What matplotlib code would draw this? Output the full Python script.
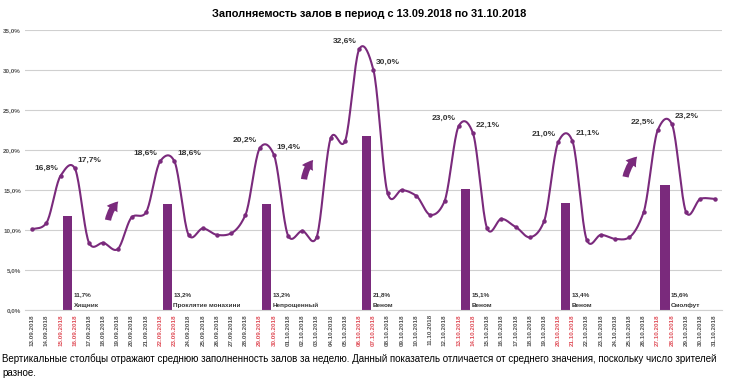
import datetime as dt
import numpy as np
import matplotlib.pyplot as plt

# daily hall occupancy, %
start = dt.date(2018, 9, 13)
dates = [start + dt.timedelta(days=i) for i in range(49)]
occupancy = [
    10.1, 10.9, 16.8, 17.7, 8.4, 8.4, 7.6, 11.6, 12.2, 18.6,
    18.6, 9.4, 10.2, 9.4, 9.6, 11.9, 20.2, 19.4, 9.3, 9.9,
    9.1, 21.5, 21.1, 32.6, 30.0, 14.6, 15.0, 14.3, 11.9, 13.6,
    23.0, 22.1, 10.2, 11.4, 10.4, 9.1, 11.1, 21.0, 21.1, 8.8,
    9.4, 8.9, 9.1, 12.2, 22.5, 23.2, 12.2, 13.9, 13.9,
]

# weekly average occupancy (bars placed on the weekend)
bar_weekends = ["15.09.2018", "22.09.2018", "29.09.2018", "06.10.2018",
                "13.10.2018", "20.10.2018", "27.10.2018"]
bar_values = [11.7, 13.2, 13.2, 21.8, 15.1, 13.4, 15.6]
bar_films = ["Хищник", "Проклятие монахини", "Непрощенный", "Веном",
             "Веном", "Веном", "Смолфут"]

# decorative arrows (start index, start %, end index, end %)
arrows = [(5.3, 10.9, 6.2, 13.8), (19.1, 16.0, 19.9, 19.0), (41.7, 16.3, 42.7, 19.4)]

PURPLE = "#7a2a7c"
RED = "#e0505a"

labels = [d.strftime("%d.%m.%Y") for d in dates]
x = np.arange(len(dates))
y = np.array(occupancy)


def smooth(px, py, steps=20, tension=0.75):
    # cubic Hermite through the points, like a spreadsheet "smooth line"
    n = len(px)
    mx = np.gradient(px, edge_order=1) * tension
    my = np.zeros(n)
    my[1:-1] = (py[2:] - py[:-2]) / 2 * tension
    my[0] = (py[1] - py[0]) * tension
    my[-1] = (py[-1] - py[-2]) * tension
    t = np.linspace(0, 1, steps, endpoint=False)
    h00 = 2 * t ** 3 - 3 * t ** 2 + 1
    h10 = t ** 3 - 2 * t ** 2 + t
    h01 = -2 * t ** 3 + 3 * t ** 2
    h11 = t ** 3 - t ** 2
    out_x, out_y = [], []
    for i in range(n - 1):
        out_x.extend(h00 * px[i] + h10 * 1.0 + h01 * px[i + 1] + h11 * 1.0)
        out_y.extend(h00 * py[i] + h10 * my[i] + h01 * py[i + 1] + h11 * my[i + 1])
    out_x.append(px[-1])
    out_y.append(py[-1])
    return np.array(out_x), np.array(out_y)


plt.rcParams["font.family"] = ["Liberation Sans", "DejaVu Sans"]

fig = plt.figure(figsize=(7.38, 3.8), dpi=100)
ax = fig.add_axes([0.034, 0.184, 0.944, 0.737])

# bars
bar_x = [labels.index(d) + 0.5 for d in bar_weekends]
ax.bar(bar_x, bar_values, width=0.65, color=PURPLE, zorder=2)
for bx, val, film in zip(bar_x, bar_values, bar_films):
    ax.text(bx + 0.42, 1.6, f"{val:.1f}%".replace(".", ","), fontsize=4.6,
            color="#333333", ha="left", va="bottom", fontweight="bold")
    ax.text(bx + 0.42, 0.25, film, fontsize=4.6, color="#333333",
            ha="left", va="bottom", fontweight="bold")

# smooth line
sx, sy = smooth(x.astype(float), y)
ax.plot(sx, sy, color=PURPLE, lw=1.5, zorder=3)
ax.plot(x, y, "o", color=PURPLE, ms=2.2, zorder=4)

# weekend peak labels
for d in bar_weekends:
    i = labels.index(d)
    ax.annotate(f"{y[i]:.1f}%".replace(".", ","), (x[i], y[i]), xytext=(-2, 3),
                textcoords="offset points", ha="right", va="bottom",
                fontsize=6, fontweight="bold", color="#333333")
    ax.annotate(f"{y[i + 1]:.1f}%".replace(".", ","), (x[i + 1], y[i + 1]),
                xytext=(2, 3), textcoords="offset points", ha="left",
                va="bottom", fontsize=6, fontweight="bold", color="#333333")

for x0, y0, x1, y1 in arrows:
    ax.annotate("", xy=(x1, y1), xytext=(x0, y0),
                arrowprops=dict(arrowstyle="simple,head_length=0.7,head_width=0.9,tail_width=0.45",
                                connectionstyle="arc3,rad=-0.2", color=PURPLE, lw=0))

ax.set_xlim(-0.5, len(dates) - 0.5)
ax.set_ylim(0, 35)
ax.set_yticks(np.arange(0, 36, 5))
ax.set_yticklabels([f"{v:.1f}%".replace(".", ",") for v in np.arange(0, 36, 5)],
                   fontsize=4.5, color="#555555", fontweight="bold")
ax.set_xticks(x)
ax.set_xticklabels(labels, rotation=90, fontsize=4.5, fontweight="bold")
for lbl, d in zip(ax.get_xticklabels(), dates):
    lbl.set_color(RED if d.weekday() >= 5 else "#555555")
ax.tick_params(length=0, pad=3)
ax.grid(axis="y", color="#d0d0d0", lw=0.8)
ax.set_axisbelow(True)
for s in ["top", "right", "left"]:
    ax.spines[s].set_visible(False)
ax.spines["bottom"].set_color("#d0d0d0")

fig.text(0.5, 0.963, "Заполняемость залов в период с 13.09.2018 по 31.10.2018",
         ha="center", va="center", fontsize=7.9, fontweight="bold")
fig.text(0.003, 0.057, "Вертикальные столбцы отражают среднюю заполненность залов за неделю. "
         "Данный показатель отличается от среднего значения, поскольку число зрителей",
         ha="left", va="center", fontsize=7.0)
fig.text(0.003, 0.018, "разное.", ha="left", va="center", fontsize=7.0)

fig.savefig("out.png", dpi=100)
